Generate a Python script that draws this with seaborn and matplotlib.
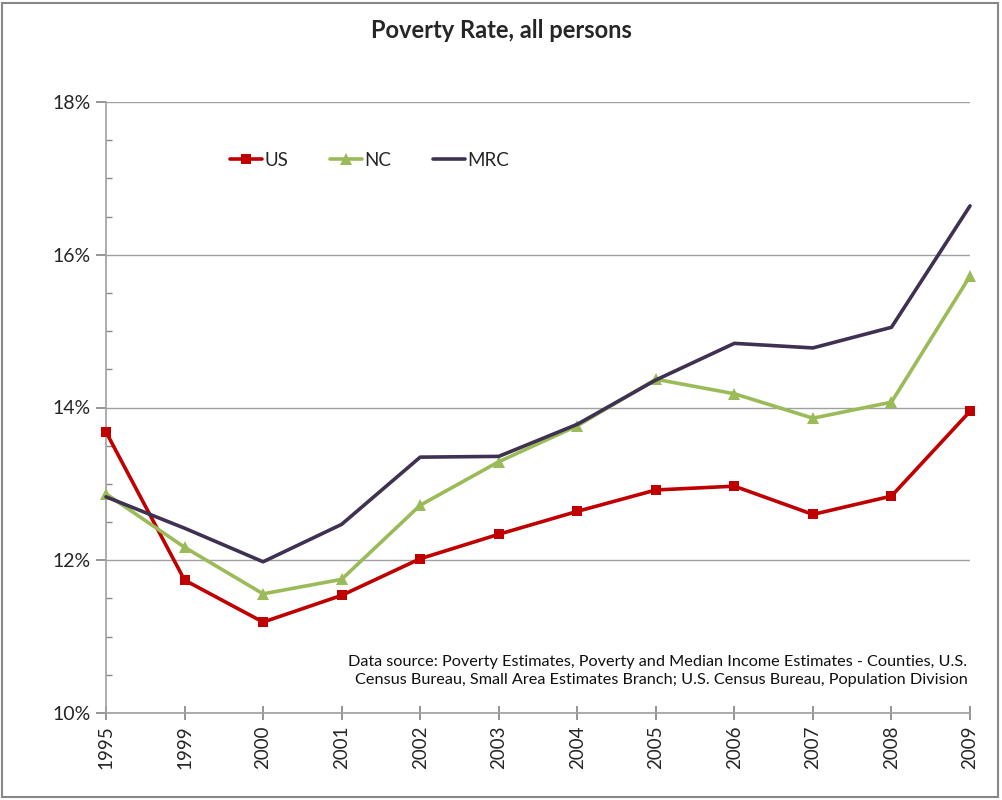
import matplotlib
matplotlib.use("Agg")
import matplotlib.pyplot as plt
import seaborn as sns
import pandas as pd
import numpy as np
from matplotlib.ticker import MultipleLocator, FuncFormatter
from matplotlib.patches import Rectangle

years = ["1995", "1999", "2000", "2001", "2002", "2003", "2004", "2005", "2006", "2007", "2008", "2009"]
us = [13.68, 11.74, 11.19, 11.54, 12.02, 12.34, 12.64, 12.92, 12.97, 12.60, 12.84, 13.95]
nc = [12.87, 12.17, 11.56, 11.75, 12.72, 13.29, 13.76, 14.37, 14.18, 13.86, 14.07, 15.72]
mrc = [12.83, 12.42, 11.98, 12.47, 13.35, 13.36, 13.78, 14.36, 14.84, 14.78, 15.05, 16.64]

series = {"US": us, "NC": nc, "MRC": mrc}
colors = {"US": "#C00000", "NC": "#9BBB59", "MRC": "#3F3151"}
markers = {"US": "s", "NC": "^", "MRC": ""}

rows = []
for name, vals in series.items():
    for i, (y, v) in enumerate(zip(years, vals)):
        rows.append({"pos": i, "year": y, "rate": v, "series": name})
df = pd.DataFrame(rows)

sns.set_theme(style="white")
plt.rcParams["font.family"] = ["Lato", "DejaVu Sans"]

fig = plt.figure(figsize=(10.02, 8), dpi=100)
ax = fig.add_axes([106/1002, 87/800, 864/1002, 611/800])

for name in series:
    sub = df[df["series"] == name]
    sns.lineplot(data=sub, x="pos", y="rate", ax=ax, color=colors[name],
                 linewidth=2.6, marker=markers[name] if markers[name] else None,
                 markersize=7.5 if name == "US" else 8.5, markeredgewidth=0,
                 label=name, sort=False, clip_on=False, zorder=3)

ax.set_xlim(0, len(years) - 1)
ax.set_ylim(10, 18)
ax.set_xticks(range(len(years)))
ax.set_xticklabels(years, rotation=90, fontsize=13.5)
ax.yaxis.set_major_locator(MultipleLocator(2))
ax.yaxis.set_minor_locator(MultipleLocator(0.5))
ax.yaxis.set_major_formatter(FuncFormatter(lambda v, p: f"{v:.0f}%"))
ax.tick_params(axis="y", which="major", labelsize=14, length=7, direction="out", color="#888888", left=True, pad=4)
ax.tick_params(axis="y", which="minor", length=4, direction="in", color="#888888", left=True)
ax.tick_params(axis="x", which="major", length=10, direction="inout", color="#888888", bottom=True, pad=4)
ax.set_xlabel("")
ax.set_ylabel("")
ax.grid(axis="y", which="major", color="#A0A0A0", linewidth=1)
ax.set_axisbelow(True)
for s in ["top", "right"]:
    ax.spines[s].set_visible(False)
for s in ["left", "bottom"]:
    ax.spines[s].set_color("#A0A0A0")
    ax.spines[s].set_linewidth(1.2)

leg = ax.legend(loc="upper left", bbox_to_anchor=(0.124, 0.946), ncol=3, frameon=False,
                fontsize=13.5, handlelength=1.7, handletextpad=0.15, columnspacing=2.2)

ax.text(0.997, 0.069, "Data source: Poverty Estimates, Poverty and Median Income Estimates - Counties, U.S.\nCensus Bureau, Small Area Estimates Branch; U.S. Census Bureau, Population Division",
        transform=ax.transAxes, ha="right", va="center", fontsize=11.7, linespacing=1.4, color="#111111")

fig.text(0.5, 1 - 30/800, "Poverty Rate, all persons", ha="center", va="center", fontsize=17, fontweight="bold")

fig.patches.append(Rectangle((2/1002, 3/800), 996/1002, 794/800, transform=fig.transFigure,
                             fill=False, edgecolor="#888888", linewidth=1.5))

fig.savefig("out.png", dpi=100)
